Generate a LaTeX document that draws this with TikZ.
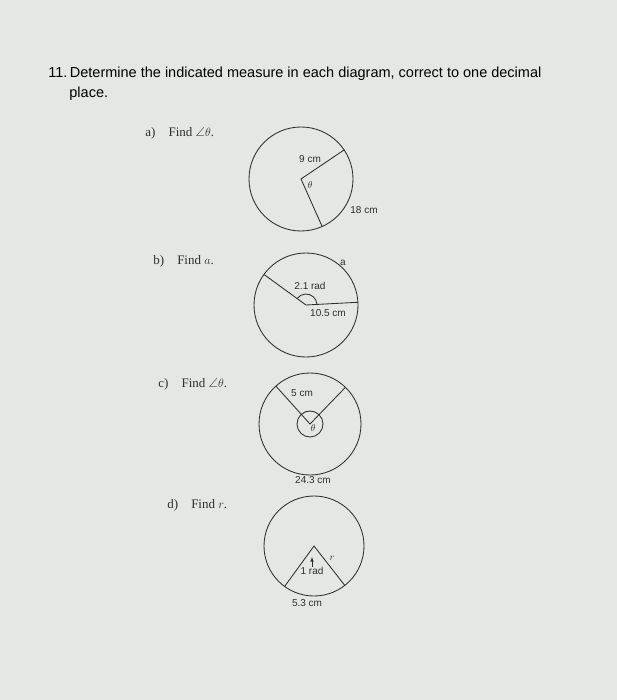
\documentclass[tikz,border=0pt]{standalone}
\usepackage{amssymb}
\usepackage{amsmath}
\usepackage{fontspec}
\setsansfont{Liberation Sans}
\setmainfont{Liberation Serif}
\usepackage{tikz}
\usetikzlibrary{calc}
\definecolor{paper}{rgb}{0.90,0.905,0.885}
\definecolor{ink}{rgb}{0.18,0.18,0.18}

\begin{document}
\begin{tikzpicture}[x = 1pt, y = 1pt, line width = .85pt,
  lbl/.style = {inner sep = 0pt, font = \sffamily\fontsize{10}{12}\selectfont, text = ink},
  ques/.style = {inner sep = 0pt, anchor = base west, font = \fontsize{13}{15}\selectfont, text = ink},
  head/.style = {inner sep = 0pt, anchor = base west, font = \sffamily\fontsize{14.5}{17}\selectfont, text = black}]
    \fill[paper] (0, 0) rectangle (617, -700);
    \useasboundingbox (0, 0) rectangle (617, -700);
    \node[head] (T1) at (48, -78) {11.\,Determine the indicated measure in each diagram, correct to one decimal};
    \node[head] (T2) at (69, -98) {place.};
    % a)
    \node[ques] (QA) at (145, -137) {a)\quad Find $\angle\theta$.};
    \coordinate (A) at (301, -179);
    \coordinate (A1) at ($(A) + (34:52pt)$);
    \coordinate (A2) at ($(A) + (-66:52pt)$);
    \draw[ink] (A) circle (52pt);
    \draw[ink] (A1) -- (A) -- (A2);
    \node[lbl] (A9) at (310, -159) {9 cm};
    \node[lbl] (At) at (310, -185) {$\theta$};
    \node[lbl] (A18) at (364, -210) {18 cm};
    % b)
    \node[ques] (QB) at (153, -265) {b)\quad Find $a$.};
    \coordinate (B) at (306, -305);
    \coordinate (B1) at ($(B) + (144:52pt)$);
    \coordinate (B2) at ($(B) + (3:52pt)$);
    \draw[ink] (B) circle (52pt);
    \draw[ink] (B1) -- (B) -- (B2);
    \draw[ink] ($(B) + (3:11pt)$) arc (3:144:11pt);
    \node[lbl] (Br) at (310, -286) {2.1 rad};
    \node[lbl] (Bc) at (328, -313) {10.5 cm};
    \node[lbl] (Ba) at (343, -263) {a};
    % c)
    \node[ques] (QC) at (158, -387) {c)\quad Find $\angle\theta$.};
    \coordinate (C) at (310, -424);
    \coordinate (C1) at ($(C) + (132:51pt)$);
    \coordinate (C2) at ($(C) + (46:51pt)$);
    \draw[ink] (C) circle (51pt);
    \draw[ink] (C1) -- (C) -- (C2);
    \draw[ink] ($(C) + (46:13pt)$) arc (46:492:13pt);
    \node[lbl] (C5) at (302, -393) {5 cm};
    \node[lbl] (Ct) at (313, -428) {$\theta$};
    \node[lbl] (Cc) at (313, -480) {24.3 cm};
    % d)
    \node[ques] (QD) at (167, -508) {d)\quad Find $r$.};
    \coordinate (D) at (314, -546);
    \coordinate (D1) at ($(D) + (-126:50pt)$);
    \coordinate (D2) at ($(D) + (-52:50pt)$);
    \draw[ink] (D) circle (50pt);
    \draw[ink] (D1) -- (D) -- (D2);
    \node[lbl] (Dr) at (312, -571) {1 rad};
    \draw[ink, line width = .6pt, -latex] (Dr.north) -- ++(0, 10);
    \node[lbl] (Dl) at (332, -558) {$r$};
    \node[lbl] (Dc) at (307, -603) {5.3 cm};
\end{tikzpicture}
\end{document}
